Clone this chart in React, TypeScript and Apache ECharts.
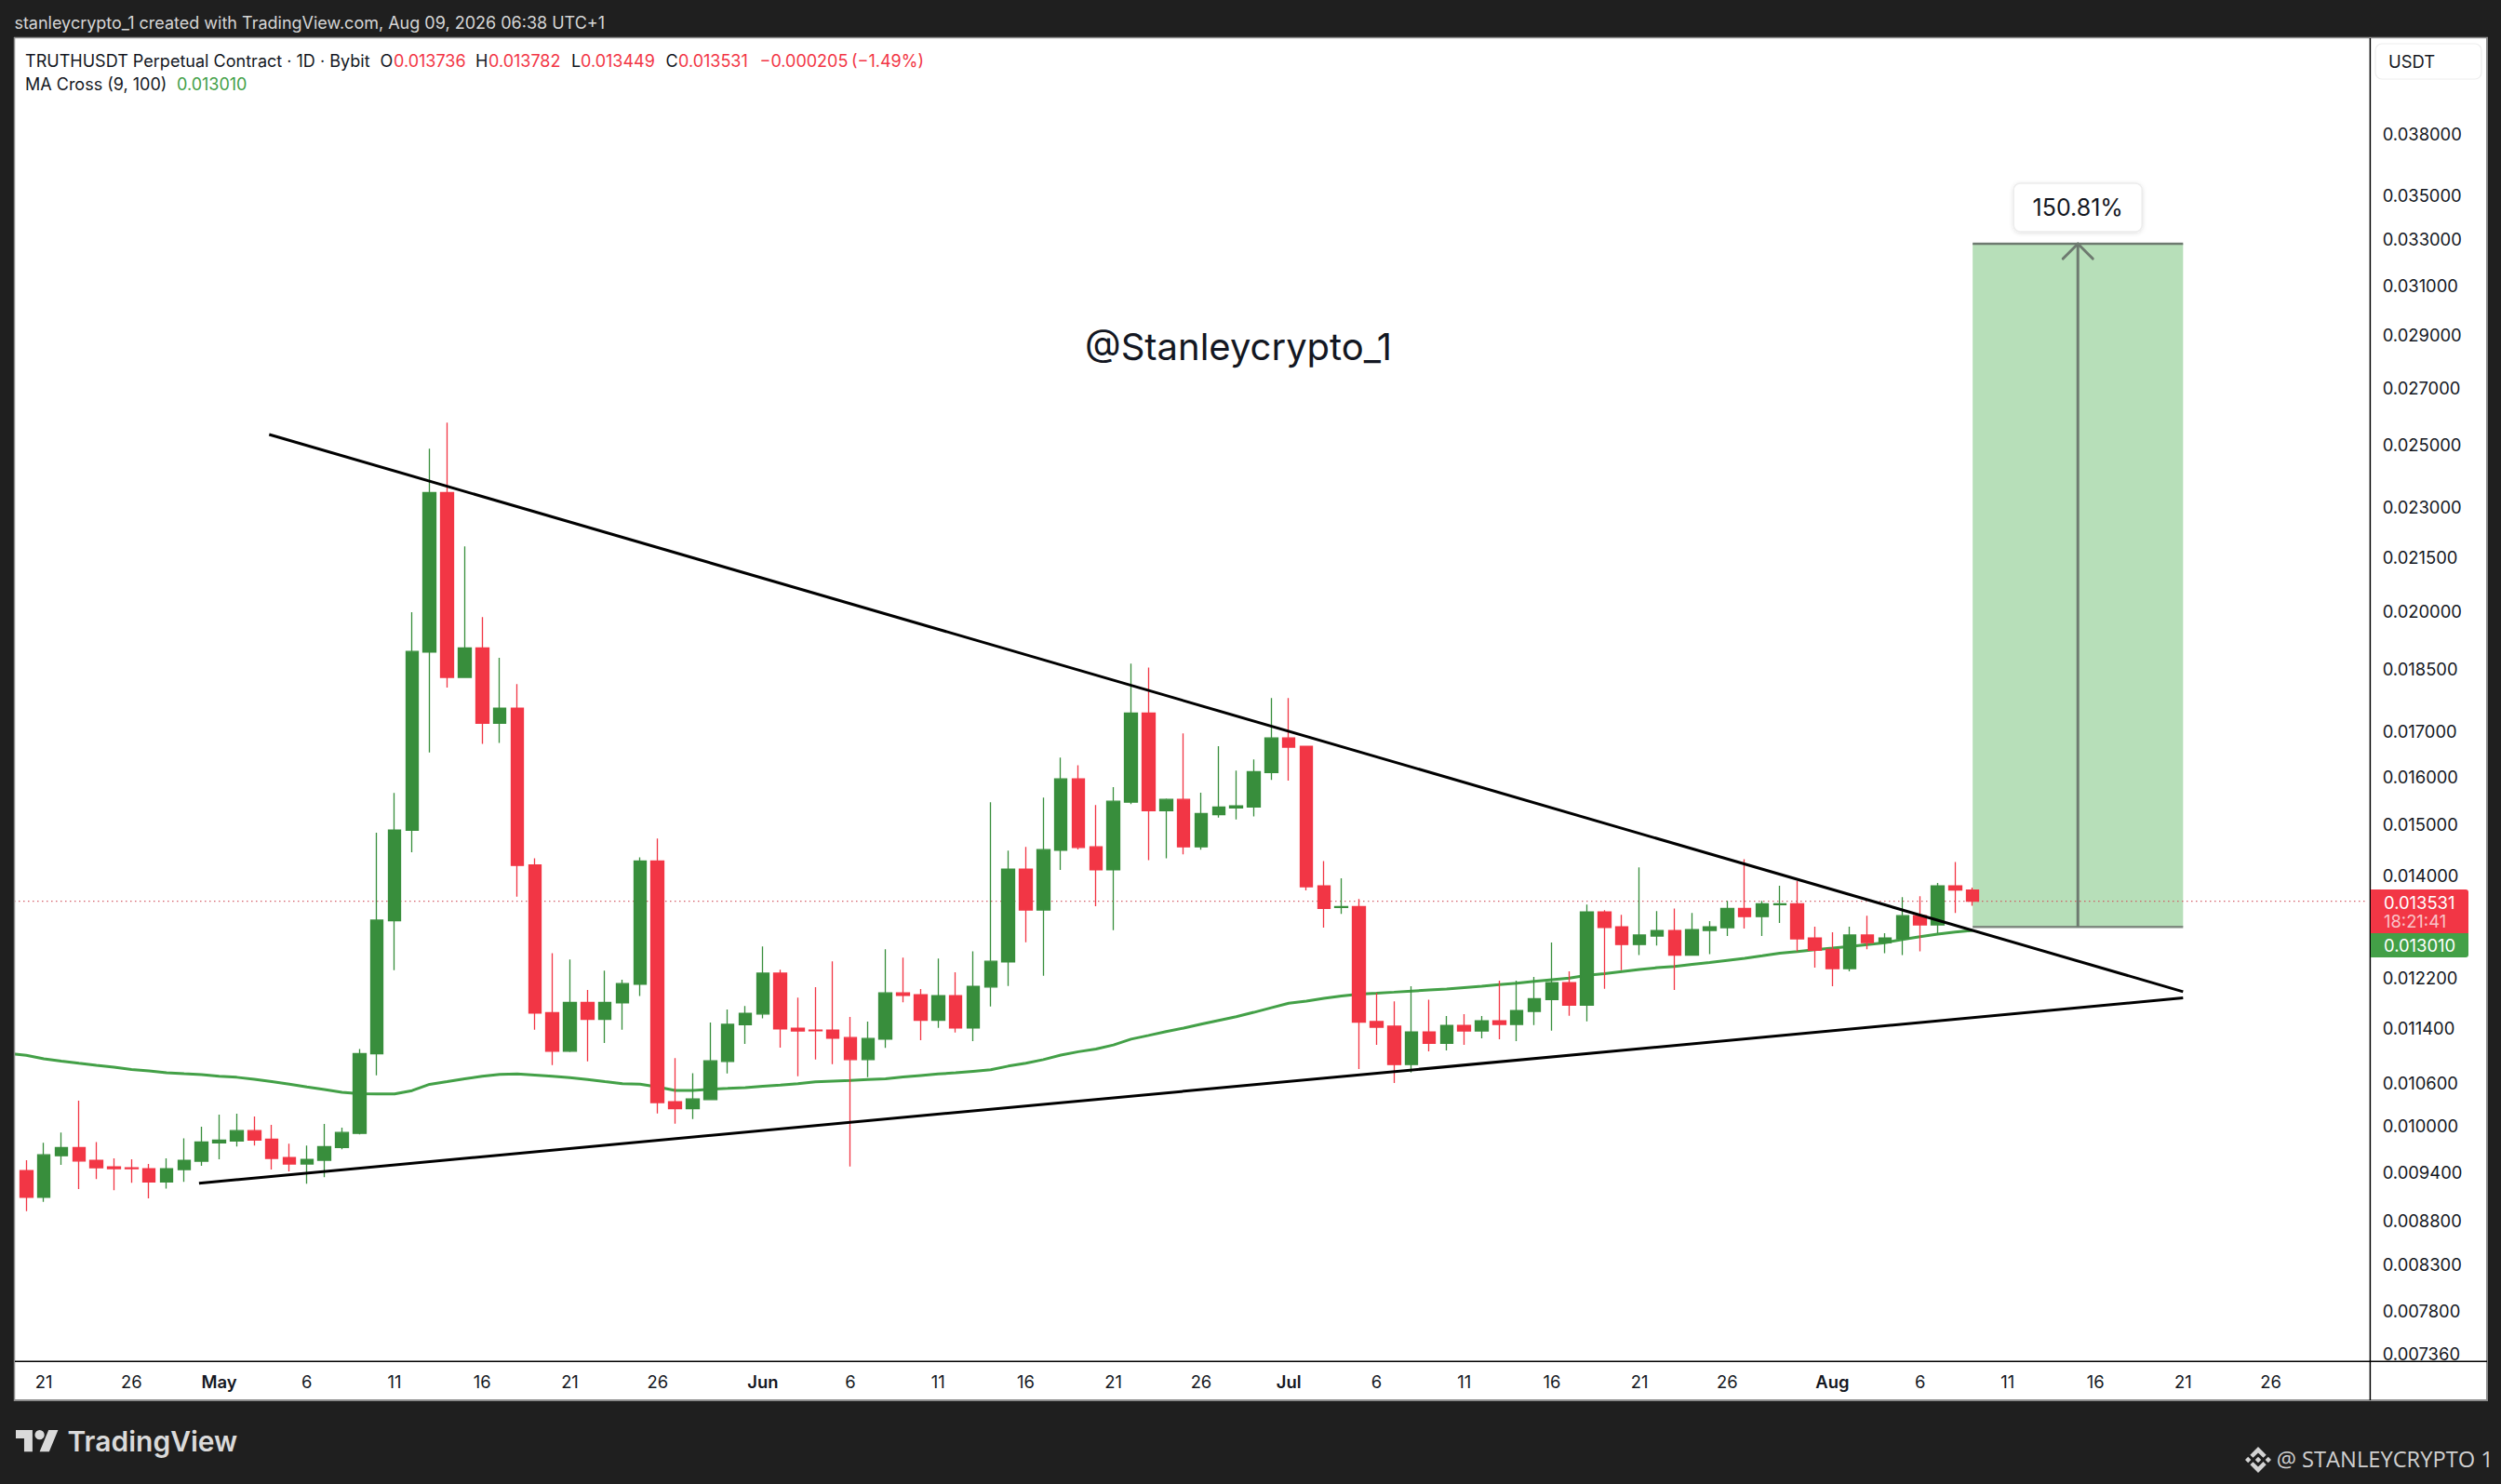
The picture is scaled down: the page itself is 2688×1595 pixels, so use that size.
import React, { useEffect, useRef } from "react";
import * as echarts from "echarts";

// ---- OHLC, Apr 20 .. Aug 9 (daily) ----
const opens = [
0.009417,0.009085,0.009607,0.009714,0.009548,0.009464,0.009452,0.009441,0.009274,0.009429,0.009536,0.009774,0.009798,0.009937,0.009822,0.009584,0.009500,0.009548,0.009714,0.009899,
0.011018,0.013182,0.014885,0.018924,0.023450,0.018288,0.019028,0.017195,0.017543,0.014207,0.011646,0.011057,0.011808,0.011543,0.011800,0.012102,0.014283,0.010331,0.010233,0.010360,
0.010907,0.011458,0.011626,0.012281,0.011406,0.011377,0.011377,0.011262,0.010933,0.011238,0.011960,0.011929,0.011526,0.011914,0.011410,0.012056,0.012469,0.014126,0.013372,0.014491,
0.015952,0.014559,0.014114,0.015460,0.017431,0.015282,0.015519,0.014559,0.015203,0.015341,0.015361,0.016090,0.016856,0.016668,0.013814,0.013416,0.013433,0.011507,0.011435,0.010861,
0.011348,0.011176,0.011449,0.011363,0.011521,0.011464,0.011665,0.011852,0.012128,0.011766,0.013335,0.013074,0.012765,0.012911,0.013009,0.012585,0.013009,0.013058,0.013400,0.013253,
0.013469,0.013486,0.012879,0.012683,0.012358,0.012928,0.012797,0.012862,0.013270,0.013107,0.013814,0.013736];
const closes = [
0.009085,0.009619,0.009714,0.009539,0.009452,0.009441,0.009441,0.009274,0.009441,0.009548,0.009786,0.009810,0.009937,0.009810,0.009572,0.009500,0.009560,0.009726,0.009912,0.011023,
0.013190,0.014892,0.018936,0.023450,0.018288,0.019028,0.017195,0.017543,0.014198,0.011641,0.011057,0.011808,0.011543,0.011808,0.012110,0.014283,0.010318,0.010233,0.010369,0.010915,
0.011465,0.011634,0.012281,0.011396,0.011363,0.011367,0.011252,0.010933,0.011248,0.011960,0.011919,0.011526,0.011914,0.011410,0.012067,0.012480,0.014126,0.013372,0.014504,0.015952,
0.014546,0.014114,0.015479,0.017431,0.015282,0.015519,0.014559,0.015223,0.015361,0.015381,0.016110,0.016856,0.016647,0.013797,0.013400,0.013433,0.011497,0.011420,0.010861,0.011348,
0.011176,0.011449,0.011363,0.011521,0.011464,0.011680,0.011868,0.012128,0.011766,0.013335,0.013063,0.012765,0.012928,0.013009,0.012585,0.013025,0.013074,0.013400,0.013253,0.013486,
0.013486,0.012862,0.012667,0.012358,0.012928,0.012797,0.012879,0.013270,0.013107,0.013814,0.013736,0.013531];
const lows = [
0.008917,0.009029,0.009488,0.009184,0.009310,0.009171,0.009262,0.009070,0.009190,0.009274,0.009476,0.009560,0.009726,0.009738,0.009429,0.009405,0.009250,0.009333,0.009690,0.009887,
0.010704,0.012332,0.014454,0.016530,0.018038,0.018288,0.016723,0.016743,0.013612,0.011382,0.010854,0.011045,0.010907,0.011180,0.011382,0.011909,0.010170,0.010030,0.010094,0.010360,
0.010730,0.011166,0.011556,0.011109,0.010691,0.010933,0.010865,0.009468,0.010676,0.011108,0.011809,0.011223,0.011410,0.011338,0.011209,0.011742,0.012072,0.012802,0.012240,0.014114,
0.014509,0.013439,0.013014,0.015420,0.014300,0.014337,0.014411,0.014504,0.015144,0.015105,0.015164,0.015932,0.015913,0.013728,0.013058,0.013302,0.010794,0.011151,0.010595,0.010744,
0.011055,0.011068,0.011151,0.011252,0.011238,0.011209,0.011453,0.011367,0.011598,0.011511,0.012026,0.012332,0.012585,0.012748,0.012006,0.012585,0.012601,0.012911,0.013042,0.012911,
0.013139,0.012650,0.012373,0.012067,0.012312,0.012683,0.012617,0.012585,0.012650,0.012960,0.013319,0.013449];
const highs = [
0.009548,0.009774,0.009912,0.010344,0.009786,0.009572,0.009560,0.009500,0.009572,0.009833,0.009988,0.010153,0.010166,0.010128,0.010014,0.009762,0.009738,0.010026,0.009975,0.011090,
0.014838,0.015653,0.019963,0.024876,0.025763,0.021811,0.019832,0.018775,0.018125,0.014337,0.012616,0.012511,0.012006,0.012324,0.012176,0.014355,0.014722,0.010955,0.010735,0.011492,
0.011695,0.011752,0.012732,0.012339,0.011883,0.012052,0.012480,0.011579,0.011507,0.012683,0.012541,0.012021,0.012526,0.012297,0.012650,0.015460,0.014485,0.014559,0.015558,0.016417,
0.016248,0.015400,0.015775,0.018628,0.018533,0.015538,0.016961,0.015657,0.016668,0.016129,0.016376,0.017788,0.017788,0.016668,0.014282,0.013953,0.013572,0.011960,0.011824,0.012067,
0.011852,0.011593,0.011622,0.011593,0.012159,0.012159,0.012220,0.012798,0.012312,0.013469,0.013368,0.013286,0.014160,0.013351,0.013400,0.013319,0.013172,0.013537,0.014316,0.013537,
0.013814,0.013901,0.013074,0.012976,0.013074,0.013270,0.012960,0.013607,0.013624,0.013866,0.014265,0.013782];
// MA 100 line: first value belongs to the day before the first candle
const maCross = [
0.011023,0.010996,0.010946,0.010911,0.010879,0.010848,0.010821,0.010789,0.010767,0.010741,0.010727,0.010714,0.010692,0.010676,0.010647,0.010613,0.010579,0.010538,0.010502,0.010463,0.010443,
0.010439,0.010439,0.010486,0.010575,0.010613,0.010653,0.010690,0.010719,0.010725,0.010708,0.010690,0.010671,0.010645,0.010613,0.010584,0.010578,0.010538,0.010490,0.010490,0.010506,
0.010517,0.010529,0.010547,0.010564,0.010584,0.010610,0.010622,0.010630,0.010643,0.010655,0.010680,0.010702,0.010724,0.010741,0.010763,0.010784,0.010838,0.010879,0.010933,0.011000,
0.011050,0.011090,0.011151,0.011238,0.011295,0.011353,0.011406,0.011468,0.011526,0.011583,0.011651,0.011723,0.011795,0.011830,0.011873,0.011909,0.011940,0.011955,0.011972,0.011990,
0.012006,0.012021,0.012047,0.012067,0.012093,0.012118,0.012148,0.012174,0.012200,0.012246,0.012274,0.012309,0.012342,0.012373,0.012393,0.012430,0.012461,0.012496,0.012531,0.012572,
0.012617,0.012644,0.012676,0.012702,0.012732,0.012765,0.012797,0.012851,0.012900,0.012944,0.012981,0.013010];
const priceTicks = [0.038,0.035,0.033,0.031,0.029,0.027,0.025,0.023,0.0215,0.02,0.0185,0.017,0.016,0.015,0.014,0.0122,0.0114,0.0106,0.01,0.0094,0.0088,0.0083,0.0078,0.00736];
const months = ["Jan","Feb","Mar","Apr","May","Jun","Jul","Aug","Sep"];
const labelledDays = [1,6,11,16,21,26];
const bandCount = 135;
// [day, price] end points; day 0 is the first candle
const upperTrend = [[13.85,0.02536],[123,0.01198]];
const lowerTrend = [[9.85,0.009258],[123,0.011879]];
const lastClose = 0.013531;
const lastMa = 0.01301;
const targetBox = [111,0.013069,123,0.032778];
const gainLabel = "150.81%";
const headerText = "stanleycrypto_1 created with TradingView.com, Aug 09, 2026 06:38 UTC+1";
const titleText = "TRUTHUSDT Perpetual Contract · 1D · Bybit";
const maName = "MA Cross (9, 100)";
const handle = "@Stanleycrypto_1";

const categories: string[] = [];
for (let i = 0; i < bandCount; i++) {
  const d = new Date(Date.UTC(2026, 3, 19 + i));
  categories.push(`${d.getUTCMonth()}-${d.getUTCDate()}`);
}

const GREEN = "#388E3C";
const RED = "#F23645";
const MA = "#43A047";
const INK = "#131722";
const FRAME = "#1F1F1F";
const F = "Inter";

echarts.graphic.registerShape("tvLogo", echarts.graphic.extendPath(
  "M14 22H7V11H0V4h14v18zM28 22h-8l7.5-18h8L28 22zM16 8a4 4 0 1 0 8 0a4 4 0 1 0-8 0z", {}));
echarts.graphic.registerShape("bnbLogo", echarts.graphic.extendPath(
  "M38.171 53.203 62.759 28.616l24.6 24.6 14.307-14.307L62.759 0 23.864 38.896zM0 62.759 14.307 48.452 28.614 62.759 14.307 77.066zM38.171 72.315 62.759 96.902 87.358 72.303 101.673 86.602 62.759 125.518 23.864 86.623zM96.903 62.759 111.21 48.452 125.517 62.759 111.21 77.066zM77.271 62.751 62.759 48.239 48.25 62.748 62.759 77.26z", {}));

const fx = (v: number) => v.toFixed(6);
const txt = (text: string, x: number, y: number, fill: string, size: number, extra: any = {}) => ({
  type: "text", z: 110, silent: true,
  style: { text, x, y, fill, font: `${extra.weight || 400} ${size}px ${extra.family || F}`, align: extra.align || "left", verticalAlign: "middle" },
});
const box = (x: number, y: number, width: number, height: number, fill: string, z = 100, r: any = 0, extra: any = {}) => ({
  type: "rect", z, silent: true, shape: { x, y, width, height, r }, style: { fill, ...extra },
});
const rule = (x1: number, y1: number, x2: number, y2: number, stroke: string, lineWidth = 1.5, z = 105) => ({
  type: "line", z, silent: true, shape: { x1, y1, x2, y2 }, style: { stroke, lineWidth },
});

function renderTarget(_p: any, api: any) {
  const a = api.coord([api.value(0), api.value(1)]);
  const b = api.coord([api.value(2), api.value(3)]);
  const mid = (a[0] + b[0]) / 2;
  const stroke = "#6E7A70";
  return {
    type: "group",
    children: [
      { type: "rect", shape: { x: a[0], y: b[1], width: b[0] - a[0], height: a[1] - b[1] }, style: { fill: "rgba(76,175,80,0.4)" } },
      { type: "line", shape: { x1: a[0], y1: b[1], x2: b[0], y2: b[1] }, style: { stroke, lineWidth: 2.5 } },
      { type: "line", shape: { x1: a[0], y1: a[1], x2: b[0], y2: a[1] }, style: { stroke: "#7F8A80", lineWidth: 2.5 } },
      { type: "line", shape: { x1: mid, y1: a[1], x2: mid, y2: b[1] }, style: { stroke, lineWidth: 3 } },
      { type: "polyline", shape: { points: [[mid - 16, b[1] + 16], [mid, b[1]], [mid + 16, b[1] + 16]] }, style: { stroke, lineWidth: 3, fill: "none", lineCap: "round" } },
      { type: "rect", shape: { x: mid - 69, y: b[1] - 65, width: 138, height: 52, r: 7 }, style: { fill: "#fff", stroke: "#ECECEC", lineWidth: 1.5, shadowBlur: 4, shadowColor: "rgba(0,0,0,0.12)", shadowOffsetY: 1 } },
      { type: "text", style: { text: gainLabel, x: mid, y: b[1] - 39, fill: INK, font: `400 25px ${F}`, align: "center", verticalAlign: "middle" } },
    ],
  };
}

export default function App() {
  const ref = useRef<HTMLDivElement>(null);
  useEffect(() => {
    const chart = echarts.init(ref.current!, undefined, { renderer: "svg" });
    const candles: any[] = [["-", "-", "-", "-"]];
    opens.forEach((o, i) => candles.push([o, closes[i], lows[i], highs[i]]));
    const lineCommon = { type: "line", xAxisIndex: 1, yAxisIndex: 0, symbol: "none", silent: true };
    const o = opens[opens.length - 1], h = highs[highs.length - 1], l = lows[lows.length - 1], c = closes[closes.length - 1];
    chart.setOption({
      animation: false,
      backgroundColor: "#FFFFFF",
      grid: { left: -1.5, top: 41, width: 2545.7, height: 1422.3, containLabel: false },
      xAxis: [
        {
          type: "category", data: categories, boundaryGap: true,
          axisLine: { show: false }, axisTick: { show: false }, splitLine: { show: false },
          axisLabel: {
            show: true, margin: 13, color: INK, fontFamily: F, fontSize: 18.4, hideOverlap: false,
            interval: (_i: number, v: string) => labelledDays.includes(+v.split("-")[1]),
            formatter: (v: string) => {
              const [m, d] = v.split("-").map(Number);
              return d === 1 ? `{m|${months[m]}}` : String(d);
            },
            rich: { m: { fontWeight: 600, fontFamily: F, fontSize: 18.4, color: INK } },
          },
        },
        { type: "value", min: -1.5, max: 133.5, show: false, splitLine: { show: false } },
      ],
      yAxis: {
        type: "log", logBase: 10, position: "right", min: 0.007283, max: 0.04323,
        axisLine: { show: false }, axisTick: { show: false }, splitLine: { show: false }, minorTick: { show: false }, minorSplitLine: { show: false },
        axisLabel: { show: true, customValues: priceTicks, margin: 16.5, color: INK, fontFamily: F, fontSize: 18.4, formatter: (v: number) => fx(v) },
      },
      series: [
        { type: "custom", xAxisIndex: 1, yAxisIndex: 0, z: 1, silent: true, renderItem: renderTarget, encode: { x: [0, 2], y: [1, 3] }, data: [targetBox], clip: false },
        { ...lineCommon, z: 1, data: [[-1.5, lastClose], [133.5, lastClose]], lineStyle: { color: "#D0505C", width: 1.3, type: [1.5, 3.5], opacity: 0.9 } },
        { type: "line", xAxisIndex: 0, yAxisIndex: 0, symbol: "none", silent: true, z: 2, data: maCross, lineStyle: { color: MA, width: 3 } },
        {
          type: "candlestick", xAxisIndex: 0, yAxisIndex: 0, z: 3, silent: true, data: candles, barWidth: 14,
          itemStyle: { color: GREEN, color0: RED, borderColor: GREEN, borderColor0: RED, borderWidth: 1.3 },
        },
        { ...lineCommon, z: 4, data: upperTrend, lineStyle: { color: "#000", width: 3 } },
        { ...lineCommon, z: 4, data: lowerTrend, lineStyle: { color: "#000", width: 3 } },
      ],
      graphic: { elements: [
        // frame
        box(0, 0, 2688, 40, FRAME), box(0, 0, 15, 1595, FRAME), box(2674, 0, 14, 1595, FRAME), box(0, 1506, 2688, 89, FRAME),
        rule(15, 40.5, 2674, 40.5, "#8C8C8C", 1.5), rule(15, 1505, 2674, 1505, "#8C8C8C", 2), rule(15.5, 40, 15.5, 1506, "#8C8C8C", 1.5), rule(2673, 40, 2673, 1506, "#8C8C8C", 2),
        // panel rules
        rule(2547.4, 41, 2547.4, 1505, "#000000", 1.5), rule(16, 1463.2, 2673, 1463.2, "#000000", 1.5),
        // price tags
        box(2548, 956, 105, 47, RED, 106, [0, 3, 0, 0]), box(2548, 1003, 105, 26, MA, 106, [0, 0, 3, 0]),
        txt(fx(lastClose), 2562, 969.7, "#FFFFFF", 18.4), txt("18:21:41", 2562, 990, "#F9C3C8", 18.4), txt(fx(lastMa), 2562, 1015.7, "#FFFFFF", 18.4),
        // currency button
        box(2553, 47, 114, 38, "#FFFFFF", 106, 7, { stroke: "#EDEDED", lineWidth: 1.2 }), txt("USDT", 2567, 65.5, INK, 18.4),
        // header
        txt(headerText, 15.4, 24, "#D6D6D6", 18),
        // legend
        txt(titleText, 27, 65, INK, 18.05),
        txt("O", 408.5, 65, INK, 18), txt(fx(o), 423, 65, RED, 18),
        txt("H", 511, 65, INK, 18), txt(fx(h), 525, 65, RED, 18),
        txt("L", 614, 65, INK, 18), txt(fx(l), 624, 65, RED, 18),
        txt("C", 715.5, 65, INK, 18), txt(fx(c), 729, 65, RED, 18),
        txt("−0.000205", 816.5, 65, RED, 18), txt("(−1.49%)", 915, 65, RED, 18),
        txt(maName, 27, 90.7, INK, 18), txt(fx(lastMa), 190, 90.7, MA, 18),
        // annotation
        txt(handle, 1166, 372, INK, 40),
        // footer
        { type: "tvLogo", z: 110, silent: true, x: 17, y: 1532, scaleX: 1.28, scaleY: 1.28, style: { fill: "#DADADA" } },
        txt("TradingView", 72.5, 1549, "#DADADA", 30, { weight: 600 }),
        { type: "bnbLogo", z: 110, silent: true, x: 2413, y: 1555, scaleX: 0.223, scaleY: 0.223, style: { fill: "#D4D4D4" } },
        txt("@ STANLEYCRYPTO 1", 2446.7, 1568, "#D0D0D0", 23.7, { family: "Open Sans" }),
      ] },
    });
    return () => chart.dispose();
  }, []);
  return <div ref={ref} style={{ position: "absolute", left: 0, top: 0, width: 2688, height: 1595 }} />;
}
